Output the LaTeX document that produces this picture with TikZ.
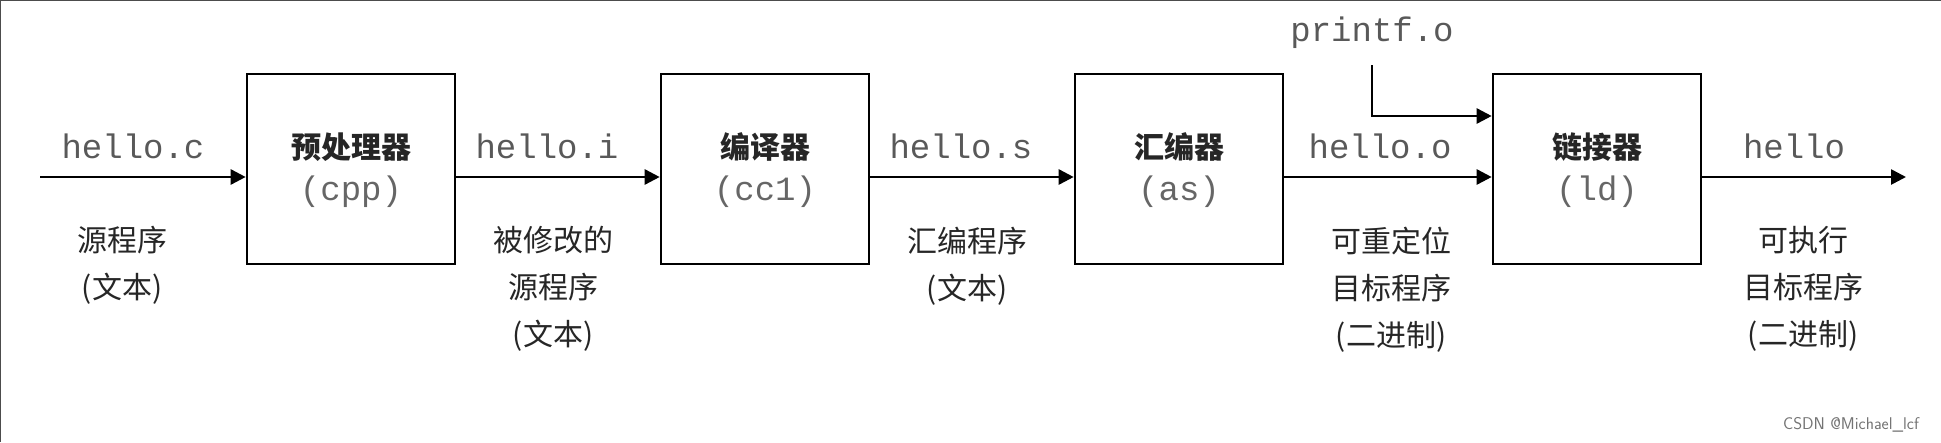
\documentclass[tikz,border=0pt]{standalone}
\usepackage{fontspec}
\setmonofont{Liberation Mono}
\newfontfamily\cjk{Noto Sans CJK SC}
\usetikzlibrary{positioning,arrows.meta}

\begin{document}
\begin{tikzpicture}[x=1pt, y=-1pt, line width=2.6pt,
		box/.style = {draw, minimum width=208pt, minimum height=190pt, inner sep=0pt},
		title/.style = {font=\cjk\bfseries\fontsize{30}{30}\selectfont, text=black!85},
		prog/.style = {font=\fontsize{34}{34}\selectfont\ttfamily, text=black!60},
		file/.style = {font=\fontsize{34}{34}\selectfont\ttfamily, text=black!65},
		note/.style = {font=\fontsize{30}{47}\selectfont\cjk, align=center, anchor=north, text=black!85},
		flow/.style = {-{Triangle[length=15pt, width=15pt]}}]
	\useasboundingbox (0,0) rectangle (1941,442);
	\draw[line width=1.5pt, black!70] (0,442) -- (0,0) -- (1941,0);
	% boxes
	\node[box] (cpp) at (351,169) {};
	\node[box] (cc1) at (765,169) {};
	\node[box] (as) at (1179,169) {};
	\node[box] (ld) at (1597,169) {};
	\foreach \b/\t/\p in {cpp/预处理器/cpp, cc1/编译器/cc1, as/汇编器/as, ld/链接器/ld}{
		\node[title] (\b-t) at ([yshift=22pt]\b.center) {\t};
		\node[prog] (\b-p) at ([yshift=-23pt]\b.center) {(\p)};
	}
	\coordinate (in) at (40,177);
	\coordinate (out) at (1906,177);
	% arrows
	\draw[flow] (in) -- (in -| cpp.west);
	\draw[flow] (cpp.east |- in) -- (in -| cc1.west);
	\draw[flow] (cc1.east |- in) -- (in -| as.west);
	\draw[flow] (as.east |- in) -- (in -| ld.west);
	\draw[flow] (ld.east |- in) -- (out);
	\node[file] (printf) at (1372,33) {printf.o};
	\coordinate (bend) at (1372,116);
	\draw[flow] (printf.south |- 0,65) -- (bend) -- (bend -| ld.west);
	% file names
	\node[file] (hc) at (133,146) {hello.c};
	\node[file] (hi) at (547,146) {hello.i};
	\node[file] (hs) at (961,146) {hello.s};
	\node[file] (ho) at (1380,146) {hello.o};
	\node[file] (h) at (1794,146) {hello};
	% notes
	\node[note] (n1) at (122,222) {源程序\\(文本)};
	\node[note] (n2) at (553,222) {被修改的\\源程序\\(文本)};
	\node[note] (n3) at (967,222) {汇编程序\\(文本)};
	\node[note] (n4) at (1391,222) {可重定位\\目标程序\\(二进制)};
	\node[note] (n5) at (1803,222) {可执行\\目标程序\\(二进制)};
	\node[font=\fontsize{17}{17}\selectfont\sffamily, text=black!55] (mark) at (1851,425) {CSDN @Michael\_lcf};
\end{tikzpicture}
\end{document}
